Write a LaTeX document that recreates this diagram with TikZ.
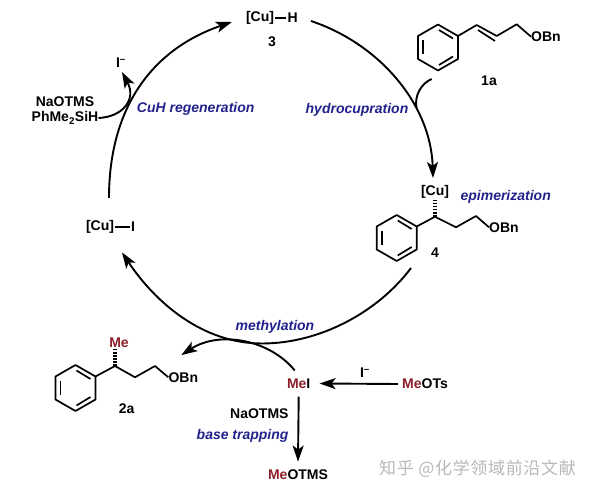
\documentclass[tikz,border=0pt]{standalone}
\usepackage{fontspec}
\setmainfont{Liberation Sans}
\newfontfamily\cjk[LetterSpace=4]{Noto Sans CJK SC}
\usetikzlibrary{arrows.meta}
\definecolor{stepblue}{HTML}{22228C}
\definecolor{methylred}{HTML}{8C1F2A}
\tikzset{
  chem/.style={inner sep=0pt,font=\fontsize{14}{16}\selectfont\bfseries},
  stepname/.style={inner sep=0pt,text=stepblue,font=\fontsize{14}{16}\selectfont\bfseries\itshape},
  bond/.style={line width=1.7pt,line join=round},
  metalbond/.style={line width=2.2pt,shorten >=1pt,shorten <=1pt},
  hashbond/.style={line width=3.4pt,dash pattern=on 1.5pt off 1.6pt},
  cycle/.style={line width=1.9pt,-{Stealth[length=16pt,width=11pt,inset=4pt]}},
  plain/.style={line width=1.9pt}
}
\newcommand{\phring}[1]{
  \begin{scope}[shift={#1}]
  \draw[bond] (0,-23) -- (20,-11.5) -- (20,11.5) -- (0,23) -- (-20,11.5) -- (-20,-11.5) -- cycle;
  \draw[bond] (-15,-7) -- (-15,7);
  \draw[bond] (1,-17.5) -- (15,-9);
  \draw[bond] (1,17.5) -- (15,9);
  \end{scope}
}
\begin{document}
\begin{tikzpicture}[x=1pt,y=-1pt]
  \useasboundingbox (0,0) rectangle (590,494);
  % Cu-H and Cu-I
  \node[chem] (cuh) at (260,18) {[Cu]};
  \node[chem] (hyd) at (292.7,18) {H};
  \node[chem] (three) at (272,41.7) {3};
  \draw[metalbond] (cuh) -- (hyd);
  \node[chem] (cui) at (100,226.7) {[Cu]};
  \node[chem] (iod) at (133,226.7) {I};
  \draw[metalbond] (cui) -- (iod);
  % alkene 1a
  \phring{(438,47.5)}
  \node[chem] (obna) at (546,36.7) {OBn};
  \node[chem] (onea) at (489,81) {1a};
  \draw[bond] (458,36) -- (476.7,25) -- (496.7,36) -- (516.7,24.3) -- (obna.west);
  \draw[bond] (478,30) -- (495,41);
  % alkyl copper 4
  \phring{(396.7,238)}
  \node[chem] (cuf) at (435,191.7) {[Cu]};
  \node[chem] (four) at (435,253) {4};
  \node[chem] (obnf) at (504,227.3) {OBn};
  \draw[bond] (416.7,226.5) -- (435,216.7) -- (456,227.3) -- (476,216) -- (obnf.west);
  \draw[hashbond] (435,216.7) -- (cuf.south);
  % product 2a
  \phring{(75.5,388)}
  \node[chem,text=methylred] (mea) at (119,342.7) {Me};
  \node[chem] (obnb) at (183.3,377.3) {OBn};
  \node[chem] (twoa) at (126.7,408.3) {2a};
  \draw[bond] (95.5,376.5) -- (115,366) -- (135,377.3) -- (155,366) -- (obnb.west);
  \draw[hashbond] (115,366) -- (mea.south -| 115,366);
  % reagents
  \node[chem] (naotmsa) at (65,101.7) {NaOTMS};
  \node[chem] (silane) at (65,118) {PhMe\textsubscript{2}SiH};
  \node[chem] (iodb) at (121,63) {I\textsuperscript{--}};
  \node[chem] (mei) at (298.7,383.5) {{\color{methylred}Me}I};
  \node[chem] (meots) at (425,384) {{\color{methylred}Me}OTs};
  \node[chem] (iodc) at (365,373) {I\textsuperscript{--}};
  \node[chem] (meotms) at (298,474.7) {{\color{methylred}Me}OTMS};
  \node[chem,anchor=east] (naotmsb) at (288.7,414) {NaOTMS};
  % step names
  \node[stepname] (regen) at (195.7,109) {CuH regeneration};
  \node[stepname] (hydro) at (357,110) {hydrocupration};
  \node[stepname] (epim) at (505.7,196.7) {epimerization};
  \node[stepname] (methyl) at (275,326.7) {methylation};
  \node[stepname,anchor=east] (trap) at (288.7,436) {base trapping};
  % catalytic cycle
  \draw[cycle] ([shift={(13,3)}]hyd.east) .. controls (380,44) and (431,105) .. ([shift={(-2,-7)}]cuf.north);
  \coordinate (cyclebottom) at (262,343.5);
  \draw[cycle] ([shift={(-24,10)}]four.south) .. controls (378,312) and (320,343.5) .. (cyclebottom) .. controls (202,343.5) and (155,302) .. ([shift={(22,19)}]cui.south);
  \draw[cycle] ([shift={(9,-22)}]cui.north) .. controls (109,110) and (150,50) .. ([shift={(-14,4)}]cuh.west);
  % side arrows
  \coordinate (alkenein) at (431.7,79);
  \coordinate (alkenejoin) at (416.5,108);
  \draw[plain] (alkenein) .. controls (422,83) and (414,95) .. (alkenejoin);
  \draw[cycle] (silane.east) .. controls (122,117) and (137,100) .. ([shift={(1,4)}]iodb.south);
  \draw[cycle] ([shift={(-4,-8)}]mei.north) .. controls (270,340) and (220,330) .. ([shift={(-2,-17)}]obnb.north);
  \draw[cycle] ([shift={(-4,0)}]meots.west) -- ([shift={(9,0)}]mei.east);
  \draw[cycle] ([shift={(0,8)}]mei.south) -- ([shift={(0,-8)}]meotms.north);
  % watermark
  \node[inner sep=0pt,text=black!28,font=\fontsize{17}{20}\selectfont\cjk] (mark) at (477.5,468.5) {知乎 @化学领域前沿文献};
\end{tikzpicture}
\end{document}
